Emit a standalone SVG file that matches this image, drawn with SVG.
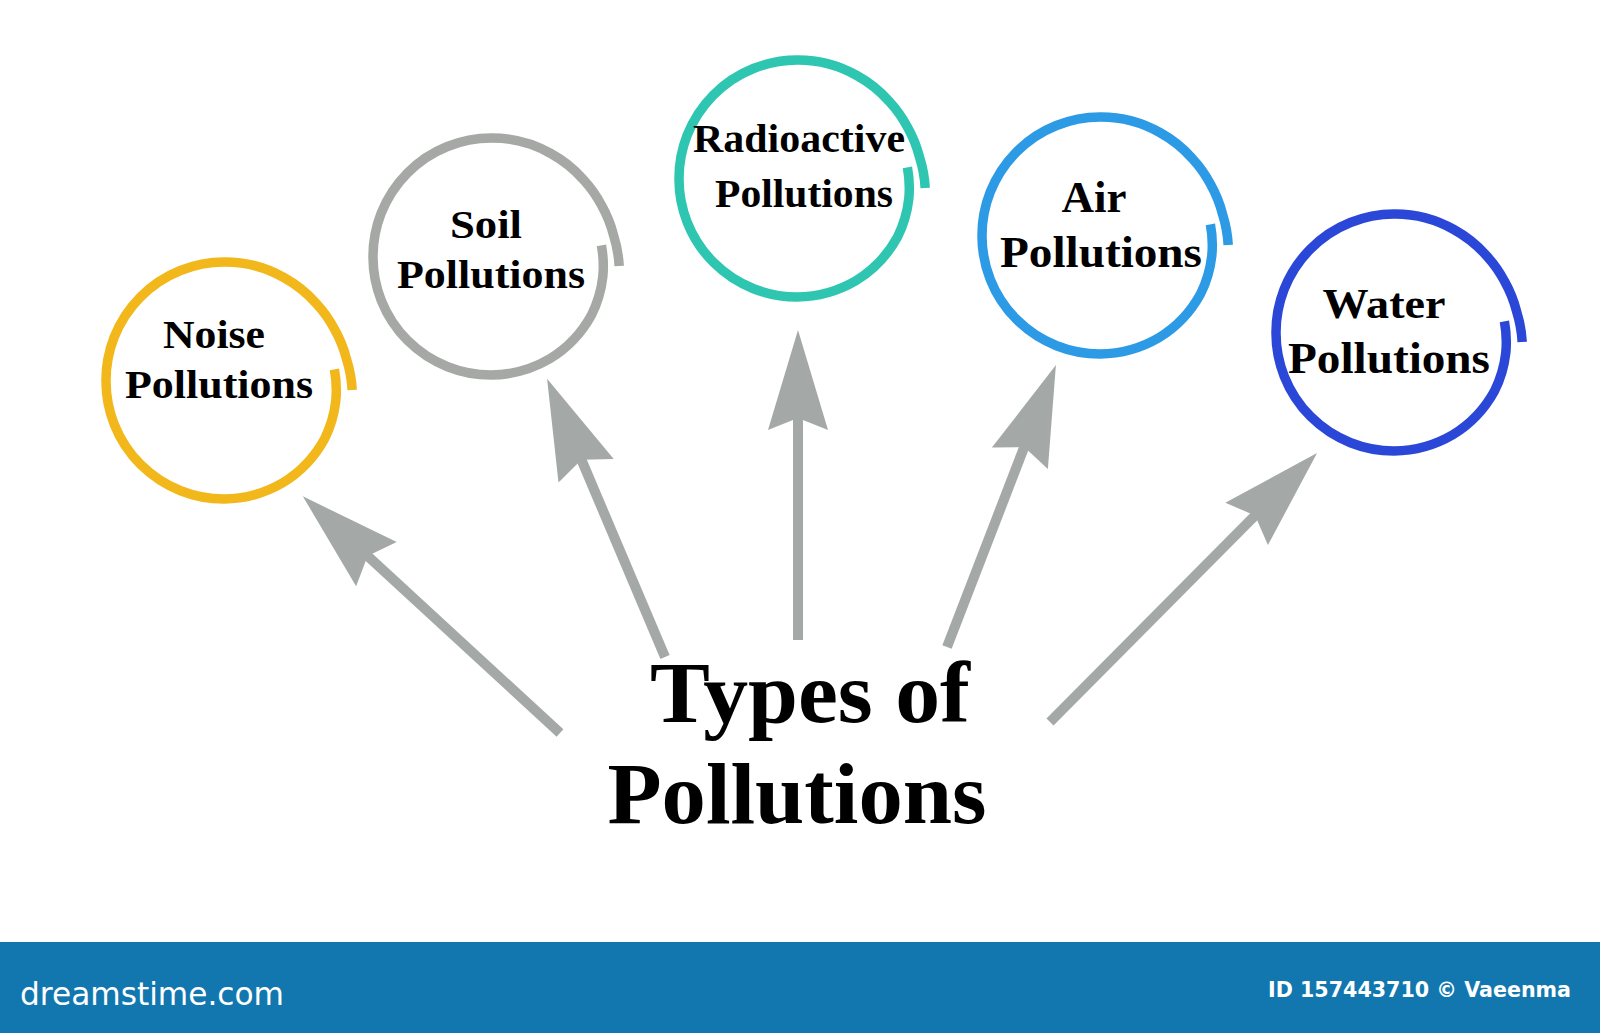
<svg xmlns="http://www.w3.org/2000/svg" xmlns:xlink="http://www.w3.org/1999/xlink" width="1600" height="1033" viewBox="0 0 1600 1033">
<style>
.ring{fill:none;stroke-width:9.5;stroke-linecap:butt;stroke-linejoin:round}
.lbl{font-family:"Liberation Serif","Times New Roman",serif;font-weight:bold;fill:#000;text-anchor:middle}
.title{font-family:"Liberation Serif","Times New Roman",serif;font-weight:bold;fill:#000;text-anchor:middle;font-size:86px}
.conn{stroke:#a4a9a8;stroke-width:10;stroke-linecap:butt;fill:none}
.foot{font-family:"DejaVu Sans","Liberation Sans",sans-serif;fill:#fff}
</style>
<defs>
<path id="spiral" d="M110.4,-11.6 A112,112 0 0 1 111.8,19.7 A115,115 0 0 1 100.5,58 A117,117 0 0 1 58.8,101.8 A117.8,117.8 0 0 1 0,118 A118,118 0 0 1 -118,0 A118.5,118.5 0 0 1 0,-119 A119.3,119.3 0 0 1 59.8,-103.5 A120,120 0 0 1 92.3,-77.5 A121.2,121.2 0 0 1 110.6,-51.6 A123.2,123.2 0 0 1 122.6,-21.6 A126.5,126.5 0 0 1 128.2,9"/>
<marker id="head" markerUnits="userSpaceOnUse" viewBox="-100 -30 100 60" refX="-60" refY="0" markerWidth="100" markerHeight="60" orient="auto" overflow="visible">
<path d="M0,0 L-100,-30 L-88,0 L-100,30 Z" fill="#a4a9a8"/>
</marker>
</defs>
<rect x="0" y="0" width="1600" height="1033" fill="#ffffff"/>

<g id="connectors">
<line class="conn" x1="560" y1="733" x2="347" y2="537" marker-end="url(#head)"/>
<line class="conn" x1="665" y1="657" x2="570.5" y2="434" marker-end="url(#head)"/>
<line class="conn" x1="798" y1="640" x2="798" y2="390" marker-end="url(#head)"/>
<line class="conn" x1="947" y1="647" x2="1034.3" y2="421" marker-end="url(#head)"/>
<line class="conn" x1="1050" y1="722" x2="1274.8" y2="495.6" marker-end="url(#head)"/>
</g>

<g id="node-noise">
<use xlink:href="#spiral" href="#spiral" class="ring" stroke="#f2b71b" transform="translate(224,381)"/>
<text class="lbl" x="214" y="348" font-size="41" textLength="102" lengthAdjust="spacingAndGlyphs">Noise</text>
<text class="lbl" x="219" y="398" font-size="41" textLength="188" lengthAdjust="spacingAndGlyphs">Pollutions</text>
</g>

<g id="node-soil">
<use xlink:href="#spiral" href="#spiral" class="ring" stroke="#a6a8a6" transform="translate(491,257)"/>
<text class="lbl" x="486" y="238" font-size="41" textLength="72" lengthAdjust="spacingAndGlyphs">Soil</text>
<text class="lbl" x="491" y="288" font-size="41" textLength="188" lengthAdjust="spacingAndGlyphs">Pollutions</text>
</g>

<g id="node-radioactive">
<use xlink:href="#spiral" href="#spiral" class="ring" stroke="#2fc6b1" transform="translate(797,179)"/>
<text class="lbl" x="799" y="152" font-size="41" textLength="212" lengthAdjust="spacingAndGlyphs">Radioactive</text>
<text class="lbl" x="804" y="207" font-size="41" textLength="178" lengthAdjust="spacingAndGlyphs">Pollutions</text>
</g>

<g id="node-air">
<use xlink:href="#spiral" href="#spiral" class="ring" stroke="#2d9ae6" transform="translate(1100,236)"/>
<text class="lbl" x="1094" y="212" font-size="44" textLength="65" lengthAdjust="spacingAndGlyphs">Air</text>
<text class="lbl" x="1101" y="267" font-size="44" textLength="202" lengthAdjust="spacingAndGlyphs">Pollutions</text>
</g>

<g id="node-water">
<use xlink:href="#spiral" href="#spiral" class="ring" stroke="#2b47d8" transform="translate(1394,333)"/>
<text class="lbl" x="1384" y="318" font-size="42" textLength="123" lengthAdjust="spacingAndGlyphs">Water</text>
<text class="lbl" x="1389" y="373" font-size="44" textLength="202" lengthAdjust="spacingAndGlyphs">Pollutions</text>
</g>

<g id="node-title">
<text class="title" x="810" y="722" textLength="320" lengthAdjust="spacingAndGlyphs">Types of</text>
<text class="title" x="797" y="823" textLength="379" lengthAdjust="spacingAndGlyphs">Pollutions</text>
</g>

<g id="footer">
<rect x="0" y="942" width="1600" height="91" fill="#1277af"/>
<text class="foot" x="20" y="1005" font-size="32" textLength="264" lengthAdjust="spacingAndGlyphs">dreamstime.com</text>
<text class="foot" x="1268" y="997" font-size="21" font-weight="bold" font-family="Roboto, 'Liberation Sans', sans-serif" textLength="303" lengthAdjust="spacingAndGlyphs">ID 157443710 © Vaeenma</text>
</g>
</svg>
